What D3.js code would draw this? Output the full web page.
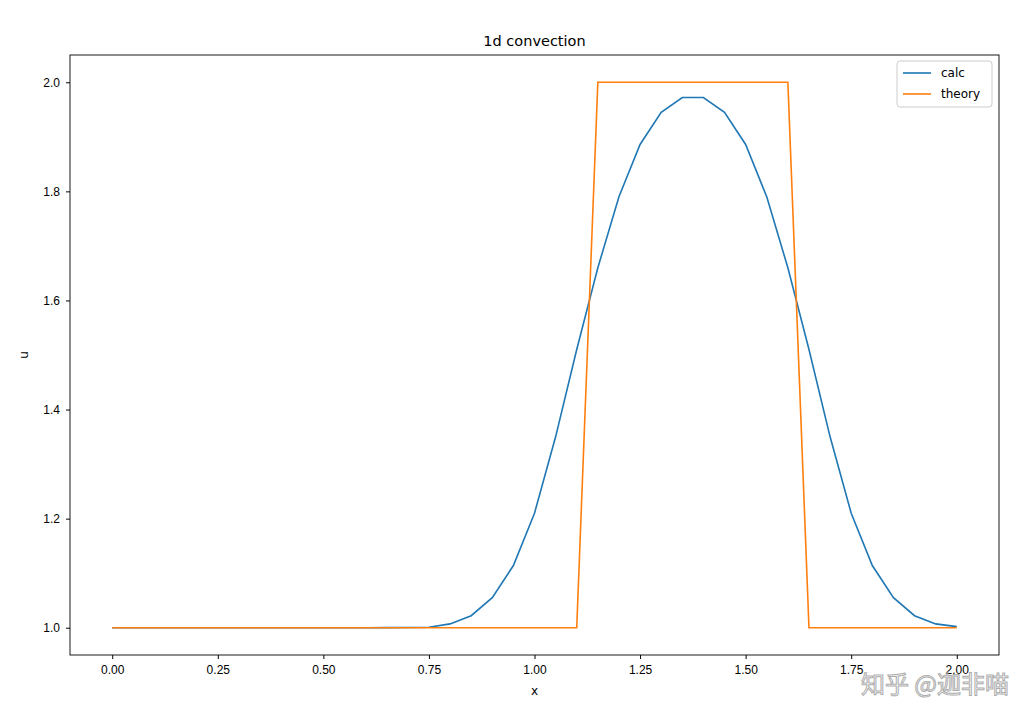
<html>
<head>
<meta charset="UTF-8" />
<script src="https://d3js.org/d3.v7.min.js"></script>
<style>body{margin:0;background:#fff}</style>
</head>
<body>
<div id="chart"></div>
<script>
const xs = d3.range(41).map(i => +(i * 0.05).toFixed(2));
const calc = [1,1,1,1,1,1,1,1,1,1,1,1,1,1.0001,1.0005,1.001,1.007,1.022,1.055,1.114,1.21,1.35,1.51,1.66,1.79,1.886,1.945,1.972,1.972,1.945,1.886,1.79,1.66,1.51,1.35,1.21,1.114,1.055,1.022,1.007,1.002];
const theory = xs.map(x => (x >= 1.15 && x <= 1.6) ? 2 : 1);
const xTicks = [0,0.25,0.5,0.75,1,1.25,1.5,1.75,2];
const yTicks = [1,1.2,1.4,1.6,1.8,2];
const series = [{name:"calc", values: calc, color:"#1f77b4"}, {name:"theory", values: theory, color:"#ff7f0e"}];

const W = 1035, H = 721, m = {l:70, r:36, t:55, b:66};
const svg = d3.select("#chart").append("svg").attr("width", W).attr("height", H)
  .style("font-family", "DejaVu Sans").style("font-size", "12px");
const x = d3.scaleLinear().domain([-0.1, 2.1]).range([m.l, W - m.r]);
const y = d3.scaleLinear().domain([0.95, 2.05]).range([H - m.b, m.t]);

svg.append("g").attr("transform", `translate(0,${H - m.b})`)
  .call(d3.axisBottom(x).tickValues(xTicks).tickFormat(d3.format(".2f")).tickSizeOuter(0).tickSize(4).tickPadding(6))
  .call(g => g.select(".domain").remove())
  .selectAll("text").attr("fill", "#000").style("font-size", "12px");
svg.append("g").attr("transform", `translate(${m.l},0)`)
  .call(d3.axisLeft(y).tickValues(yTicks).tickFormat(d3.format(".1f")).tickSizeOuter(0).tickSize(4).tickPadding(6))
  .call(g => g.select(".domain").remove())
  .selectAll("text").attr("fill", "#000").style("font-size", "12px");

const line = d3.line().x((d, i) => x(xs[i])).y(d => y(d));
series.forEach(s => svg.append("path").datum(s.values).attr("d", line)
  .attr("fill", "none").attr("stroke", s.color).attr("stroke-width", 1.6));

svg.append("rect").attr("x", m.l).attr("y", m.t).attr("width", W - m.l - m.r).attr("height", H - m.t - m.b)
  .attr("fill", "none").attr("stroke", "#000").attr("stroke-width", 0.9);

svg.append("text").attr("x", (m.l + W - m.r) / 2).attr("y", m.t - 9).attr("text-anchor", "middle")
  .style("font-size", "14.5px").text("1d convection");
svg.append("text").attr("x", (m.l + W - m.r) / 2).attr("y", H - 26).attr("text-anchor", "middle").text("x");
svg.append("text").attr("transform", `translate(${m.l - 42},${(m.t + H - m.b) / 2}) rotate(-90)`)
  .attr("text-anchor", "middle").text("u");

const lg = svg.append("g").attr("transform", `translate(${W - m.r - 102},${m.t + 6})`);
lg.append("rect").attr("width", 95).attr("height", 46).attr("rx", 3).attr("fill", "#fff").attr("stroke", "#ccc");
series.forEach((s, i) => {
  lg.append("line").attr("x1", 6).attr("x2", 34).attr("y1", 12 + i * 21).attr("y2", 12 + i * 21)
    .attr("stroke", s.color).attr("stroke-width", 1.6);
  lg.append("text").attr("x", 44).attr("y", 16 + i * 21).text(s.name);
});

svg.append("text").attr("x", W - 26).attr("y", H - 28).attr("text-anchor", "end")
  .style("font-family", "Noto Sans CJK SC").style("font-size", "24px").attr("fill", "#fff")
  .attr("stroke", "#999").attr("stroke-width", 1).attr("opacity", 0.8).text("知乎 @迦非喵");
</script>
</body>
</html>
